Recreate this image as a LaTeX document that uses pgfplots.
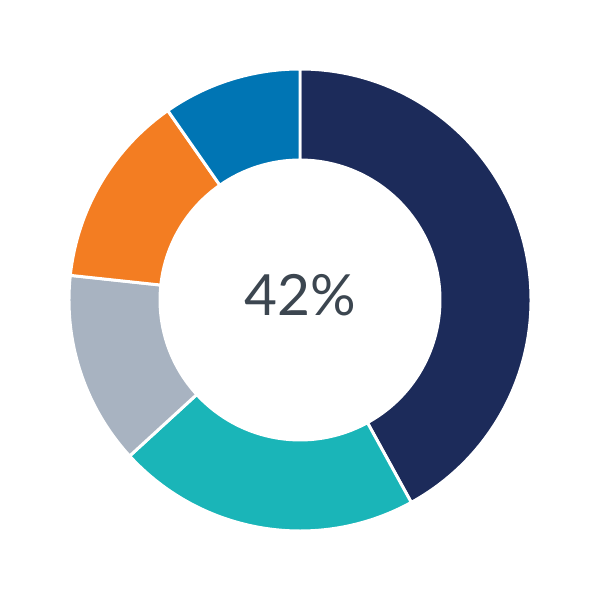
\documentclass[border=0pt]{standalone}
\usepackage{pgfplots}
\pgfplotsset{compat=1.18}
\usepackage{pgfplotstable}
\usepackage{fontspec}
\setmainfont{Lato}

\definecolor{cnavy}{HTML}{1C2B5A}
\definecolor{cteal}{HTML}{1AB5B8}
\definecolor{cgray}{HTML}{A8B3C1}
\definecolor{corange}{HTML}{F37D22}
\definecolor{cblue}{HTML}{0075B4}
\definecolor{ctext}{HTML}{3C4650}

% shares in percent, clockwise from 12 o'clock
\pgfplotstableread{
share colour
42 cnavy
21.2 cteal
13.5 cgray
13.6 corange
9.7 cblue
}\shares

\begin{document}
\begin{tikzpicture}
\begin{axis}[
    hide axis,
    x=3cm, y=3cm,
    xmin=-1.2987, xmax=1.2987,
    ymin=-1.2987, ymax=1.2987,
    clip=false
  ]
  \path (axis cs:-1.2987,-1.2987) rectangle (axis cs:1.2987,1.2987);
  \pgfplotstablegetrowsof{\shares}
  \pgfmathtruncatemacro{\nlast}{\pgfplotsretval-1}
  \def\cum{0}
  \pgfplotsforeachungrouped \i in {0,...,\nlast}{
    \pgfplotstablegetelem{\i}{share}\of\shares \let\s\pgfplotsretval
    \pgfplotstablegetelem{\i}{colour}\of\shares \let\c\pgfplotsretval
    \pgfmathsetmacro{\aa}{90-3.6*\cum}
    \pgfmathsetmacro{\ab}{90-3.6*(\cum+\s)}
    \pgfmathsetmacro{\cum}{\cum+\s}
    \edef\cmd{\noexpand\fill[fill=\c, draw=white, line width=1.1pt]
      (axis cs:{cos(\aa)},{sin(\aa)})
      arc[start angle=\aa, end angle=\ab, radius=3cm]
      -- (axis cs:{0.606*cos(\ab)},{0.606*sin(\ab)})
      arc[start angle=\ab, end angle=\aa, radius=1.818cm] -- cycle;}
    \cmd
  }
  \node[anchor=base, text=ctext, font=\fontsize{21}{24}\selectfont]
    at (axis cs:0,-0.065) {42\%};
\end{axis}
\end{tikzpicture}
\end{document}
